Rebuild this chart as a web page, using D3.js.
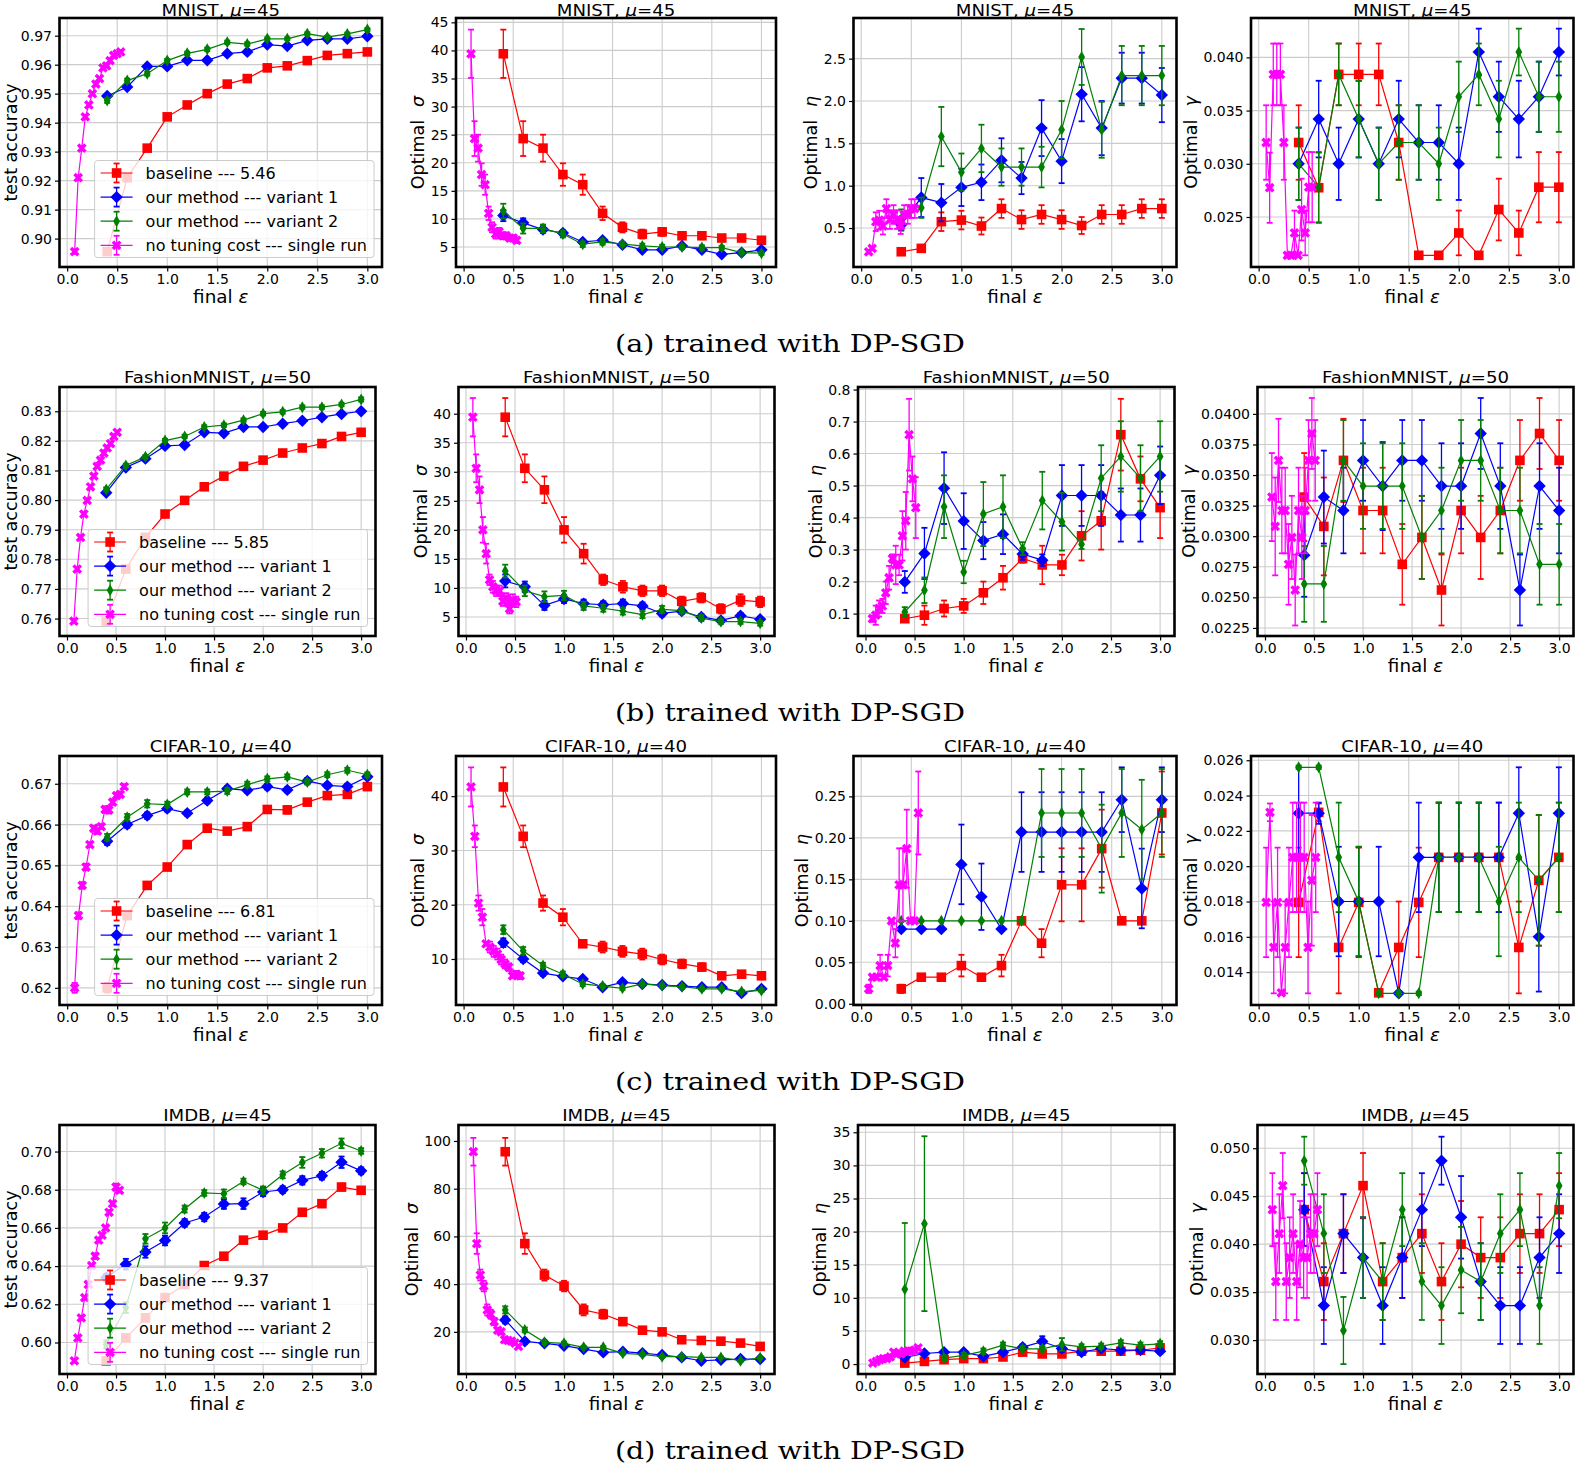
<!DOCTYPE html>
<html><head><meta charset="utf-8">
<script src="https://cdnjs.cloudflare.com/ajax/libs/d3/7.8.5/d3.min.js"></script>
<style>body{margin:0;background:#fff} svg{display:block}</style>
</head><body><svg id="c" width="1579" height="1469"></svg>
<script>
// ---------------- DATA ----------------
const epsGrid = [0.4,0.6,0.8,1.0,1.2,1.4,1.6,1.8,2.0,2.2,2.4,2.6,2.8,3.0];
const xTickValues = [0.0,0.5,1.0,1.5,2.0,2.5,3.0];

// x positions of the "no tuning cost --- single run" series
const mnistSingleX   = [0.075,0.11,0.146,0.181,0.217,0.252,0.287,0.323,0.358,0.394,0.429,0.465,0.5,0.535];
const fashionSingleX = [0.07,0.104,0.138,0.172,0.206,0.24,0.274,0.308,0.342,0.376,0.41,0.444,0.478,0.512];
const cifarSingleX   = [0.075,0.113,0.151,0.189,0.227,0.265,0.303,0.341,0.379,0.417,0.455,0.493,0.531,0.57];
const imdbSingleX    = [0.075,0.11,0.146,0.181,0.217,0.252,0.287,0.323,0.358,0.394,0.429,0.465,0.5,0.535];

// ----- MNIST -----
const mnistAccTicks = [0.90,0.91,0.92,0.93,0.94,0.95,0.96,0.97];
const mnistAccBase = [0.8955,0.9210,0.9312,0.9420,0.9461,0.9500,0.9533,0.9552,0.9589,0.9596,0.9614,0.9632,0.9638,0.9644];
const mnistAccBaseErr = [0.0008,0.0008,0.0007,0.0007,0.0006,0.0006,0.0006,0.0006,0.0006,0.0005,0.0005,0.0005,0.0005,0.0005];
const mnistAccV1 = [0.9492,0.9523,0.9594,0.9594,0.9615,0.9615,0.9638,0.9644,0.9669,0.9664,0.9684,0.9689,0.9689,0.9698];
const mnistAccV1Err = [0.0007,0.0007,0.0006,0.0006,0.0006,0.0006,0.0005,0.0005,0.0005,0.0005,0.0005,0.0005,0.0005,0.0005];
const mnistAccV2 = [0.9476,0.9545,0.9569,0.9614,0.9639,0.9653,0.9677,0.9671,0.9689,0.9689,0.9707,0.9695,0.9706,0.9721];
const mnistAccV2Err = [0.0008,0.0007,0.0007,0.0006,0.0006,0.0006,0.0006,0.0006,0.0005,0.0005,0.0005,0.0005,0.0005,0.0005];

const mnistSigmaTicks = [5,10,15,20,25,30,35,40,45];
const mnistSigmaBase = [39.4,24.3,22.6,17.9,16.1,11.0,8.5,7.3,7.7,7.0,7.0,6.6,6.6,6.2];
const mnistSigmaBaseErr = [4.3,3.1,2.4,2.0,1.8,1.2,0.9,0.8,0.7,0.6,0.6,0.5,0.5,0.5];
const mnistSigmaV1 = [10.6,9.3,8.1,7.5,5.9,6.2,5.4,4.5,4.5,5.2,4.5,3.7,4.0,4.5];
const mnistSigmaV1Err = [1.0,0.8,0.6,0.5,0.4,0.4,0.4,0.3,0.3,0.3,0.3,0.3,0.3,0.3];
const mnistSigmaV2 = [11.4,8.3,8.3,7.3,5.5,5.9,5.5,5.2,5.0,5.0,4.9,4.9,4.0,3.9];
const mnistSigmaV2Err = [1.3,0.9,0.7,0.6,0.5,0.5,0.4,0.4,0.4,0.4,0.4,0.3,0.3,0.3];

const mnistEtaTicks = [0.5,1.0,1.5,2.0,2.5];
const mnistEtaBase = [0.22,0.26,0.575,0.594,0.524,0.73,0.6,0.66,0.6,0.53,0.66,0.66,0.73,0.73];
const mnistEtaBaseErr = [0.02,0.02,0.11,0.11,0.1,0.11,0.11,0.11,0.11,0.1,0.11,0.11,0.11,0.11];
const mnistEtaV1 = [0.54,0.86,0.8,0.98,1.04,1.3,1.09,1.68,1.29,2.08,1.68,2.27,2.27,2.07];
const mnistEtaV1Err = [0.07,0.23,0.22,0.22,0.21,0.26,0.19,0.33,0.26,0.32,0.32,0.3,0.3,0.32];
const mnistEtaV2 = [0.6,0.74,1.58,1.16,1.44,1.22,1.22,1.22,1.66,2.52,1.66,2.3,2.3,2.3];
const mnistEtaV2Err = [0.12,0.12,0.35,0.22,0.28,0.22,0.22,0.24,0.34,0.33,0.33,0.35,0.35,0.35];

const mnistGammaTicks = [0.025,0.030,0.035,0.040];
const mnistGammaBase = [0.0320,0.02775,0.0384,0.0384,0.0384,0.0320,0.0214,0.0214,0.0235,0.0214,0.0257,0.0235,0.0278,0.0278];
const mnistGammaBaseErr = [0.0035,0.0033,0.0029,0.0029,0.0029,0.0035,0.0001,0.0001,0.0021,0.0001,0.0029,0.0021,0.0033,0.0033];
const mnistGammaV1 = [0.0300,0.0342,0.0300,0.0342,0.0300,0.0342,0.0320,0.0320,0.0300,0.0405,0.0363,0.0342,0.0363,0.0405];
const mnistGammaV1Err = [0.0034,0.0036,0.0034,0.0036,0.0034,0.0036,0.0035,0.0035,0.0034,0.0022,0.0033,0.0036,0.0033,0.0022];
const mnistGammaV2 = [0.0300,0.0278,0.0384,0.0342,0.0300,0.0320,0.0320,0.0300,0.0363,0.0384,0.0342,0.0405,0.0363,0.0363];
const mnistGammaV2Err = [0.0034,0.0033,0.0029,0.0036,0.0034,0.0035,0.0035,0.0034,0.0033,0.0029,0.0036,0.0022,0.0033,0.0033];

// ----- FashionMNIST -----
const fashionAccTicks = [0.76,0.77,0.78,0.79,0.80,0.81,0.82,0.83];
const fashionAccBase = [0.7591,0.7767,0.7874,0.7953,0.7999,0.8045,0.8081,0.8114,0.8135,0.8159,0.8176,0.8191,0.8215,0.8229];
const fashionAccBaseErr = [0.0007,0.0007,0.0007,0.0006,0.0006,0.0006,0.0006,0.0006,0.0006,0.0006,0.0006,0.0006,0.0006,0.0006];
const fashionAccV1 = [0.8025,0.8110,0.8140,0.8183,0.8186,0.8229,0.8226,0.8247,0.8247,0.8258,0.8268,0.8280,0.8291,0.8300];
const fashionAccV1Err = [0.0007,0.0006,0.0006,0.0006,0.0006,0.0006,0.0006,0.0006,0.0006,0.0006,0.0006,0.0006,0.0006,0.0006];
const fashionAccV2 = [0.8036,0.8117,0.8146,0.8201,0.8215,0.8247,0.8253,0.8270,0.8292,0.8298,0.8314,0.8314,0.8323,0.8340];
const fashionAccV2Err = [0.0007,0.0006,0.0006,0.0006,0.0006,0.0006,0.0006,0.0006,0.0006,0.0006,0.0006,0.0006,0.0006,0.0007];

const fashionSigmaTicks = [5,10,15,20,25,30,35,40];
const fashionSigmaBase = [39.4,30.6,26.9,20.0,15.9,11.4,10.2,9.5,9.5,7.7,8.3,6.4,7.9,7.6];
const fashionSigmaBaseErr = [3.3,2.4,2.3,2.2,1.7,0.9,1.0,0.9,0.9,0.8,0.8,0.8,1.0,0.9];
const fashionSigmaV1 = [11.2,10.2,7.0,8.1,7.3,7.1,7.3,6.9,5.6,6.0,5.0,4.4,5.2,4.6];
const fashionSigmaV1Err = [1.1,0.9,0.8,0.7,0.7,0.6,0.7,0.6,0.5,0.5,0.5,0.4,0.5,0.4];
const fashionSigmaV2 = [12.9,9.5,8.5,8.7,6.9,6.5,6.0,5.4,6.3,6.1,4.8,4.2,4.2,3.9];
const fashionSigmaV2Err = [1.1,0.9,0.9,0.8,0.7,0.6,0.6,0.6,0.6,0.5,0.5,0.4,0.4,0.4];

const fashionEtaTicks = [0.1,0.2,0.3,0.4,0.5,0.6,0.7,0.8];
const fashionEtaBase = [0.084,0.095,0.116,0.124,0.165,0.212,0.272,0.252,0.252,0.343,0.39,0.659,0.521,0.431];
const fashionEtaBaseErr = [0.01,0.03,0.025,0.022,0.035,0.037,0.013,0.06,0.032,0.077,0.09,0.112,0.07,0.095];
const fashionEtaV1 = [0.199,0.288,0.492,0.389,0.328,0.348,0.286,0.267,0.469,0.469,0.469,0.408,0.408,0.532];
const fashionEtaV1Err = [0.034,0.08,0.112,0.087,0.058,0.062,0.018,0.018,0.095,0.095,0.095,0.083,0.083,0.09];
const fashionEtaV2 = [0.105,0.173,0.434,0.23,0.411,0.434,0.303,0.453,0.387,0.317,0.523,0.591,0.523,0.591];
const fashionEtaV2Err = [0.015,0.04,0.098,0.035,0.1,0.098,0.02,0.09,0.09,0.015,0.103,0.11,0.103,0.11];

const fashionGammaTicks = [0.0225,0.0250,0.0275,0.0300,0.0325,0.0350,0.0375,0.0400];
const fashionGammaBase = [0.0332,0.0308,0.0362,0.0321,0.0321,0.0277,0.0299,0.0256,0.0321,0.0299,0.0321,0.0362,0.0384,0.0362];
const fashionGammaBaseErr = [0.0036,0.004,0.0034,0.0035,0.0035,0.0033,0.0034,0.0029,0.0035,0.0034,0.0035,0.0033,0.0029,0.0033];
const fashionGammaV1 = [0.02845,0.0332,0.0321,0.0362,0.0341,0.0362,0.0362,0.0341,0.0341,0.0384,0.0341,0.0256,0.0341,0.0321];
const fashionGammaV1Err = [0.0034,0.0038,0.0035,0.0033,0.0036,0.0033,0.0033,0.0035,0.0035,0.0029,0.0035,0.0029,0.0035,0.0035];
const fashionGammaV2 = [0.0261,0.0261,0.0362,0.0341,0.0341,0.0341,0.0299,0.0321,0.0362,0.0362,0.0321,0.0321,0.0277,0.0277];
const fashionGammaV2Err = [0.0031,0.0031,0.0033,0.0035,0.0035,0.0035,0.0034,0.0035,0.0033,0.0033,0.0035,0.0035,0.0033,0.0033];

// ----- CIFAR-10 -----
const cifarAccTicks = [0.62,0.63,0.64,0.65,0.66,0.67];
const cifarAccBase = [0.6200,0.6377,0.6451,0.6496,0.6551,0.6591,0.6584,0.6595,0.6637,0.6636,0.6655,0.6671,0.6674,0.6693];
const cifarAccBaseErr = [0.0012,0.0008,0.0008,0.0008,0.0006,0.0006,0.0007,0.0006,0.0008,0.0009,0.0007,0.0007,0.0007,0.0006];
const cifarAccV1 = [0.6559,0.6600,0.6622,0.6639,0.6628,0.6659,0.6688,0.6684,0.6693,0.6685,0.6707,0.6696,0.6693,0.6717];
const cifarAccV1Err = [0.0009,0.0008,0.0008,0.0007,0.0006,0.0007,0.0006,0.0006,0.0007,0.0006,0.0007,0.0006,0.0007,0.0006];
const cifarAccV2 = [0.6569,0.6618,0.6651,0.6649,0.6680,0.6680,0.6682,0.6698,0.6712,0.6717,0.6704,0.6722,0.6733,0.6722];
const cifarAccV2Err = [0.0008,0.0008,0.0009,0.0007,0.0006,0.0006,0.0007,0.0007,0.0006,0.0006,0.0006,0.0006,0.0006,0.0006];

const cifarSigmaTicks = [10,20,30,40];
const cifarSigmaBase = [41.7,32.6,20.3,17.7,12.8,12.2,11.4,10.9,9.9,9.1,8.5,6.9,7.2,6.9];
const cifarSigmaBaseErr = [3.6,2.0,1.4,1.5,0.3,1.0,1.0,1.0,0.9,0.8,0.7,0.4,0.6,0.6];
const cifarSigmaV1 = [13.0,10.0,7.4,6.8,6.3,4.8,5.7,5.4,5.2,5.0,4.8,4.8,3.7,4.5];
const cifarSigmaV1Err = [0.8,0.6,0.5,0.4,0.4,0.3,0.4,0.3,0.3,0.3,0.3,0.3,0.3,0.3];
const cifarSigmaV2 = [15.4,11.5,8.8,7.2,5.4,5.0,4.6,5.4,5.1,4.9,4.5,4.5,4.0,4.2];
const cifarSigmaV2Err = [0.8,0.7,0.5,0.5,0.4,0.3,0.3,0.3,0.3,0.3,0.3,0.3,0.3,0.3];

const cifarEtaTicks = [0.00,0.05,0.10,0.15,0.20,0.25];
const cifarEtaBase = [0.018,0.032,0.032,0.046,0.032,0.046,0.1,0.073,0.1434,0.1434,0.187,0.1,0.1,0.23];
const cifarEtaBaseErr = [0.005,0.002,0.002,0.013,0.002,0.013,0.001,0.017,0.044,0.044,0.047,0.001,0.001,0.05];
const cifarEtaV1 = [0.09,0.09,0.09,0.168,0.129,0.09,0.207,0.207,0.207,0.207,0.207,0.246,0.139,0.246];
const cifarEtaV1Err = [0.002,0.002,0.002,0.048,0.04,0.002,0.048,0.048,0.048,0.048,0.048,0.039,0.048,0.039];
const cifarEtaV2 = [0.1,0.1,0.1,0.1,0.1,0.1,0.1,0.23,0.23,0.23,0.187,0.23,0.21,0.23];
const cifarEtaV2Err = [0.001,0.001,0.001,0.001,0.001,0.001,0.001,0.053,0.053,0.053,0.053,0.053,0.06,0.053];

const cifarGammaTicks = [0.014,0.016,0.018,0.020,0.022,0.024,0.026];
const cifarGammaBase = [0.01795,0.02305,0.0154,0.01795,0.01283,0.0154,0.01795,0.0205,0.0205,0.0205,0.0205,0.0154,0.0192,0.0205];
const cifarGammaBaseErr = [0.0031,0.0005,0.0026,0.0031,0.0001,0.0026,0.0031,0.0031,0.0031,0.0031,0.0031,0.0026,0.0037,0.0031];
const cifarGammaV1 = [0.0230,0.0230,0.0180,0.0180,0.0180,0.0128,0.0205,0.0205,0.0205,0.0205,0.0205,0.0230,0.0160,0.0230];
const cifarGammaV1Err = [0.0026,0.0006,0.0031,0.0031,0.0031,0.0001,0.0031,0.0031,0.0031,0.0031,0.0031,0.0026,0.0031,0.0026];
const cifarGammaV2 = [0.0256,0.0256,0.0205,0.0180,0.0128,0.0128,0.0128,0.0205,0.0205,0.0205,0.0180,0.0205,0.0192,0.0205];
const cifarGammaV2Err = [0.0001,0.0001,0.0031,0.0031,0.0001,0.0001,0.0001,0.0031,0.0031,0.0031,0.0031,0.0031,0.0037,0.0031];

// ----- IMDB -----
const imdbAccTicks = [0.60,0.62,0.64,0.66,0.68,0.70];
const imdbAccBase = [0.5904,0.6024,0.6129,0.6235,0.6304,0.6403,0.6452,0.6536,0.6562,0.6600,0.6682,0.6727,0.6814,0.6797];
const imdbAccBaseErr = [0.0010,0.0010,0.0010,0.0010,0.0010,0.0008,0.0015,0.0012,0.0010,0.0010,0.0010,0.0012,0.0018,0.0012];
const imdbAccV1 = [0.6340,0.6410,0.6474,0.6534,0.6626,0.6657,0.6725,0.6727,0.6788,0.6800,0.6849,0.6873,0.6944,0.6899];
const imdbAccV1Err = [0.0020,0.0028,0.0030,0.0025,0.0020,0.0022,0.0025,0.0028,0.0022,0.0018,0.0022,0.0020,0.0030,0.0018];
const imdbAccV2 = [0.5990,0.6183,0.6543,0.6600,0.6699,0.6783,0.6779,0.6843,0.6797,0.6878,0.6943,0.6991,0.7043,0.7003];
const imdbAccV2Err = [0.0020,0.0028,0.0025,0.0028,0.0018,0.0015,0.0022,0.0015,0.0020,0.0018,0.0028,0.0022,0.0025,0.0015];

const imdbSigmaTicks = [20,40,60,80,100];
const imdbSigmaBase = [95.5,57.0,43.8,39.2,29.2,27.4,24.3,20.7,20.0,16.7,16.4,16.1,15.3,13.9];
const imdbSigmaBaseErr = [5.8,4.3,2.3,2.2,2.3,1.9,1.5,1.0,1.0,1.0,0.8,0.8,0.8,0.7];
const imdbSigmaV1 = [25.0,16.0,15.2,14.2,12.8,11.4,11.7,11.1,10.3,9.3,7.9,8.3,8.6,8.6];
const imdbSigmaV1Err = [1.5,1.0,0.8,0.7,0.6,0.6,0.5,0.5,0.5,0.4,0.4,0.4,0.4,0.4];
const imdbSigmaV2 = [29.2,20.8,15.6,15.2,13.5,13.5,11.0,10.6,9.6,9.6,9.3,9.3,7.9,9.1];
const imdbSigmaV2Err = [1.5,1.0,0.8,0.7,0.6,0.6,0.5,0.5,0.5,0.4,0.4,0.4,0.4,0.4];

const imdbEtaTicks = [0,5,10,15,20,25,30,35];
const imdbEtaBase = [0.15,0.4,0.66,0.82,0.82,1.07,1.8,1.53,1.53,1.94,1.94,1.94,2.09,2.45];
const imdbEtaBaseErr = [0.2,0.2,0.2,0.2,0.2,0.2,0.3,0.3,0.3,0.3,0.3,0.3,0.3,0.3];
const imdbEtaV1 = [1.0,1.6,1.8,1.8,1.15,1.8,2.55,3.4,2.35,1.8,2.35,2.1,2.1,1.95];
const imdbEtaV1Err = [0.3,0.3,0.3,0.3,0.3,0.3,0.4,0.8,0.5,0.4,0.4,0.4,0.4,0.4];
const imdbEtaV2 = [11.3,21.2,0.92,1.3,1.95,2.85,2.3,2.3,2.97,2.6,2.7,3.2,2.85,3.06];
const imdbEtaV2Err = [10.0,13.2,0.4,0.4,0.4,0.4,0.4,0.4,0.95,0.4,0.4,0.4,0.4,0.4];

const imdbGammaTicks = [0.030,0.035,0.040,0.045,0.050];
const imdbGammaBase = [0.0436,0.0361,0.0411,0.0461,0.0361,0.0386,0.0411,0.0361,0.0400,0.0386,0.0386,0.0411,0.0411,0.0436];
const imdbGammaBaseErr = [0.0038,0.0040,0.0041,0.0034,0.0040,0.0042,0.0041,0.0040,0.0045,0.0042,0.0042,0.0041,0.0041,0.0038];
const imdbGammaV1 = [0.0436,0.0336,0.0411,0.0386,0.0336,0.0386,0.0436,0.0487,0.0428,0.0361,0.0336,0.0336,0.0386,0.0411];
const imdbGammaV1Err = [0.0038,0.0040,0.0041,0.0042,0.0040,0.0042,0.0038,0.0025,0.0043,0.0040,0.0040,0.0040,0.0042,0.0041];
const imdbGammaV2 = [0.0487,0.0411,0.0310,0.0386,0.0361,0.0436,0.0361,0.0336,0.0373,0.0361,0.0411,0.0436,0.0336,0.0461];
const imdbGammaV2Err = [0.0025,0.0041,0.0035,0.0042,0.0040,0.0038,0.0040,0.0040,0.0045,0.0040,0.0041,0.0038,0.0040,0.0034];

// ---------------- LAYOUT / STYLE ----------------
const FONT = "'DejaVu Sans', sans-serif";
const COL = {base:'#ff0000', v1:'#0000ff', v2:'#008000', single:'#ff00ff'};
const xDomain = [-0.0765, 3.1465];
const rowTops = [18, 387, 756, 1125];
const boxH = 249;
const layoutWide = {left:[59.5,456,853.5,1251], right:[382,776,1176.5,1573.5]};
const layoutNarrow = {left:[59.5,458.5,858,1257.5], right:[375.5,774.5,1174.5,1573.5]};

function P(ylab, dom, ticks, fmt, b, be, v1, v1e, v2, v2e) {
  return {ylab, dom, ticks, fmt, b, be, v1, v1e, v2, v2e};
}
const rows = [
  {name:'MNIST', mu:'45', cap:'(a)', legend:'baseline --- 5.46', singleX:mnistSingleX, layout:layoutWide, panels:[
    P('acc',[0.8902,0.9761],mnistAccTicks,'.2f',mnistAccBase,mnistAccBaseErr,mnistAccV1,mnistAccV1Err,mnistAccV2,mnistAccV2Err),
    P('σ',[1.44,45.77],mnistSigmaTicks,'d',mnistSigmaBase,mnistSigmaBaseErr,mnistSigmaV1,mnistSigmaV1Err,mnistSigmaV2,mnistSigmaV2Err),
    P('η',[0.04,2.98],mnistEtaTicks,'.1f',mnistEtaBase,mnistEtaBaseErr,mnistEtaV1,mnistEtaV1Err,mnistEtaV2,mnistEtaV2Err),
    P('γ',[0.0203,0.0437],mnistGammaTicks,'.3f',mnistGammaBase,mnistGammaBaseErr,mnistGammaV1,mnistGammaV1Err,mnistGammaV2,mnistGammaV2Err)]},
  {name:'FashionMNIST', mu:'50', cap:'(b)', legend:'baseline --- 5.85', singleX:fashionSingleX, layout:layoutNarrow, panels:[
    P('acc',[0.7541,0.8382],fashionAccTicks,'.2f',fashionAccBase,fashionAccBaseErr,fashionAccV1,fashionAccV1Err,fashionAccV2,fashionAccV2Err),
    P('σ',[1.72,44.6],fashionSigmaTicks,'d',fashionSigmaBase,fashionSigmaBaseErr,fashionSigmaV1,fashionSigmaV1Err,fashionSigmaV2,fashionSigmaV2Err),
    P('η',[0.030,0.808],fashionEtaTicks,'.1f',fashionEtaBase,fashionEtaBaseErr,fashionEtaV1,fashionEtaV1Err,fashionEtaV2,fashionEtaV2Err),
    P('γ',[0.02184,0.0422],fashionGammaTicks,'.4f',fashionGammaBase,fashionGammaBaseErr,fashionGammaV1,fashionGammaV1Err,fashionGammaV2,fashionGammaV2Err)]},
  {name:'CIFAR-10', mu:'40', cap:'(c)', legend:'baseline --- 6.81', singleX:cifarSingleX, layout:layoutWide, panels:[
    P('acc',[0.6158,0.6768],cifarAccTicks,'.2f',cifarAccBase,cifarAccBaseErr,cifarAccV1,cifarAccV1Err,cifarAccV2,cifarAccV2Err),
    P('σ',[1.52,47.4],cifarSigmaTicks,'d',cifarSigmaBase,cifarSigmaBaseErr,cifarSigmaV1,cifarSigmaV1Err,cifarSigmaV2,cifarSigmaV2Err),
    P('η',[-0.0015,0.2987],cifarEtaTicks,'.2f',cifarEtaBase,cifarEtaBaseErr,cifarEtaV1,cifarEtaV1Err,cifarEtaV2,cifarEtaV2Err),
    P('γ',[0.01214,0.02624],cifarGammaTicks,'.3f',cifarGammaBase,cifarGammaBaseErr,cifarGammaV1,cifarGammaV1Err,cifarGammaV2,cifarGammaV2Err)]},
  {name:'IMDB', mu:'45', cap:'(d)', legend:'baseline --- 9.37', singleX:imdbSingleX, layout:layoutNarrow, panels:[
    P('acc',[0.5835,0.7139],imdbAccTicks,'.2f',imdbAccBase,imdbAccBaseErr,imdbAccV1,imdbAccV1Err,imdbAccV2,imdbAccV2Err),
    P('σ',[2.34,106.7],imdbSigmaTicks,'d',imdbSigmaBase,imdbSigmaBaseErr,imdbSigmaV1,imdbSigmaV1Err,imdbSigmaV2,imdbSigmaV2Err),
    P('η',[-1.5,36.1],imdbEtaTicks,'d',imdbEtaBase,imdbEtaBaseErr,imdbEtaV1,imdbEtaV1Err,imdbEtaV2,imdbEtaV2Err),
    P('γ',[0.02647,0.05242],imdbGammaTicks,'.3f',imdbGammaBase,imdbGammaBaseErr,imdbGammaV1,imdbGammaV1Err,imdbGammaV2,imdbGammaV2Err)]}
];

// ---------------- DRAWING ----------------
const svg = d3.select('#c');
svg.append('rect').attr('width',1579).attr('height',1469).attr('fill','#fff');

function xMarkerPath(s, w) {
  const pts = [[-w,-s],[w,-s],[w,-w],[s,-w],[s,w],[w,w],[w,s],[-w,s],[-w,w],[-s,w],[-s,-w],[-w,-w]];
  const r = Math.SQRT1_2;
  return 'M' + pts.map(([a,b]) => [((a-b)*r).toFixed(2), ((a+b)*r).toFixed(2)].join(',')).join('L') + 'Z';
}
const MARK = {
  base: 'M-4.8,-4.8L4.8,-4.8L4.8,4.8L-4.8,4.8Z',
  v1: 'M0,-6.2L6.2,0L0,6.2L-6.2,0Z',
  v2: 'M0,-6L3.4,0L0,6L-3.4,0Z',
  single: xMarkerPath(5.2, 1.7)
};

function drawSeries(g, x, y, xs, ys, es, key) {
  const c = COL[key];
  const pts = xs.map((d,i) => ({x:d, y:ys[i], e:es[i]}));
  const sg = g.append('g');
  sg.append('path').datum(pts)
    .attr('d', d3.line().x(d=>x(d.x)).y(d=>y(d.y)))
    .attr('fill','none').attr('stroke',c).attr('stroke-width',1.2);
  const eb = sg.append('g').attr('stroke',c).attr('stroke-width',1.3);
  eb.selectAll('line.v').data(pts).join('line')
    .attr('x1',d=>x(d.x)).attr('x2',d=>x(d.x)).attr('y1',d=>y(d.y-d.e)).attr('y2',d=>y(d.y+d.e));
  eb.selectAll('line.t').data(pts).join('line')
    .attr('x1',d=>x(d.x)-3).attr('x2',d=>x(d.x)+3).attr('y1',d=>y(d.y+d.e)).attr('y2',d=>y(d.y+d.e)).attr('stroke-width',1.8);
  eb.selectAll('line.b').data(pts).join('line')
    .attr('x1',d=>x(d.x)-3).attr('x2',d=>x(d.x)+3).attr('y1',d=>y(d.y-d.e)).attr('y2',d=>y(d.y-d.e)).attr('stroke-width',1.8);
  sg.selectAll('path.m').data(pts).join('path')
    .attr('d', MARK[key]).attr('fill',c)
    .attr('transform', d=>`translate(${x(d.x)},${y(d.y)})`);
}

function drawLegend(g, R, B, firstLabel) {
  const labels = [firstLabel,'our method --- variant 1','our method --- variant 2','no tuning cost --- single run'];
  const keys = ['base','v1','v2','single'];
  const lg = g.append('g');
  const bg = lg.append('rect');
  const H = 97, rowGap = 24.1;
  const texts = labels.map(t => lg.append('text').text(t).attr('font-family',FONT).attr('font-size',16).attr('fill','#000'));
  const maxW = d3.max(texts, t => t.node().getComputedTextLength());
  const W = 51 + maxW + 7;
  const L0 = R - 8 - W, T0 = B - 9.5 - H;
  bg.attr('x',L0).attr('y',T0).attr('width',W).attr('height',H).attr('rx',3)
    .attr('fill','#fff').attr('fill-opacity',0.8).attr('stroke','#cccccc').attr('stroke-width',1);
  keys.forEach((k,i) => {
    const cy = T0 + 12.5 + rowGap*i;
    const c = COL[k];
    texts[i].attr('x', L0 + 51).attr('y', cy).attr('dy','0.36em');
    lg.append('line').attr('x1',L0+6).attr('x2',L0+38).attr('y1',cy).attr('y2',cy).attr('stroke',c).attr('stroke-width',1.2);
    lg.append('line').attr('x1',L0+22).attr('x2',L0+22).attr('y1',cy-9.5).attr('y2',cy+9.5).attr('stroke',c).attr('stroke-width',1.3);
    [cy-9.5, cy+9.5].forEach(yy => lg.append('line').attr('x1',L0+19).attr('x2',L0+25).attr('y1',yy).attr('y2',yy).attr('stroke',c).attr('stroke-width',1.8));
    lg.append('path').attr('d',MARK[k]).attr('fill',c).attr('transform',`translate(${L0+22},${cy})`);
  });
}

function styleAxis(ag) {
  ag.select('.domain').remove();
  ag.selectAll('.tick line').attr('stroke','#000').attr('stroke-width',1.2);
  ag.selectAll('.tick text').attr('font-family',FONT).attr('font-size',14).attr('fill','#000');
  ag.attr('font-family',FONT).attr('font-size',14);
}

rows.forEach((row, ri) => {
  const T = rowTops[ri], B = T + boxH;
  row.panels.forEach((p, pi) => {
    const L = row.layout.left[pi], R = row.layout.right[pi];
    const g = svg.append('g');
    const x = d3.scaleLinear().domain(xDomain).range([L, R]);
    const y = d3.scaleLinear().domain(p.dom).range([B, T]);
    // grid
    g.append('g').selectAll('line').data(xTickValues).join('line')
      .attr('x1',d=>x(d)).attr('x2',d=>x(d)).attr('y1',T).attr('y2',B)
      .attr('stroke','#cccccc').attr('stroke-width',1.1);
    g.append('g').selectAll('line').data(p.ticks).join('line')
      .attr('x1',L).attr('x2',R).attr('y1',d=>y(d)).attr('y2',d=>y(d))
      .attr('stroke','#cccccc').attr('stroke-width',1.1);
    // axes
    const xa = g.append('g').attr('transform',`translate(0,${B})`)
      .call(d3.axisBottom(x).tickValues(xTickValues).tickFormat(d3.format('.1f')).tickSize(4.5).tickPadding(3));
    styleAxis(xa);
    const ya = g.append('g').attr('transform',`translate(${L},0)`)
      .call(d3.axisLeft(y).tickValues(p.ticks).tickFormat(d3.format(p.fmt)).tickSize(4.5).tickPadding(3));
    styleAxis(ya);
    // series
    drawSeries(g, x, y, epsGrid, p.b, p.be, 'base');
    drawSeries(g, x, y, epsGrid, p.v1, p.v1e, 'v1');
    drawSeries(g, x, y, epsGrid, p.v2, p.v2e, 'v2');
    drawSeries(g, x, y, row.singleX, p.b, p.be, 'single');
    if (pi === 0) drawLegend(g, R, B, row.legend);
    // frame
    g.append('rect').attr('x',L).attr('y',T).attr('width',R-L).attr('height',B-T)
      .attr('fill','none').attr('stroke','#000').attr('stroke-width',2.6);
    // title (slightly widened like the reference rendering)
    const ty = Math.max(T - 4, 15.6);
    const tt = g.append('text').attr('transform',`translate(${(L+R)/2},${ty}) scale(1.1,1)`).attr('text-anchor','middle')
      .attr('font-family',FONT).attr('font-size',16.5).attr('fill','#000');
    tt.append('tspan').text(row.name + ', ');
    tt.append('tspan').attr('font-style','italic').text('μ');
    tt.append('tspan').text('=' + row.mu);
    // x label
    const xl = g.append('text').attr('transform',`translate(${(L+R)/2},${B+36}) scale(1.08,1)`).attr('text-anchor','middle')
      .attr('font-family',FONT).attr('font-size',17).attr('fill','#000');
    xl.append('tspan').text('final ');
    xl.append('tspan').attr('font-style','italic').text('ε');
    // y label (kept inside the page)
    const fsY = 17.5;
    const bb = ya.node().getBBox();
    const lx = Math.max(L + bb.x - 6.5, fsY * 0.95 + 0.8), ly = (T+B)/2;
    const yl = g.append('text').attr('transform',`translate(${lx},${ly}) rotate(-90)`).attr('text-anchor','middle')
      .attr('font-family',FONT).attr('font-size',fsY).attr('fill','#000');
    if (p.ylab === 'acc') yl.text('test accuracy');
    else {
      yl.append('tspan').text('Optimal');
      yl.append('tspan').attr('dx',13).attr('font-style','italic').text(p.ylab);
    }
  });
  // caption
  svg.append('text').attr('x',790).attr('y',T+334).attr('text-anchor','middle')
    .attr('font-family',"'DejaVu Serif', serif").attr('font-size',25).attr('fill','#000')
    .attr('textLength',350).attr('lengthAdjust','spacingAndGlyphs')
    .text(row.cap + ' trained with DP-SGD');
});
</script>
</body></html>
